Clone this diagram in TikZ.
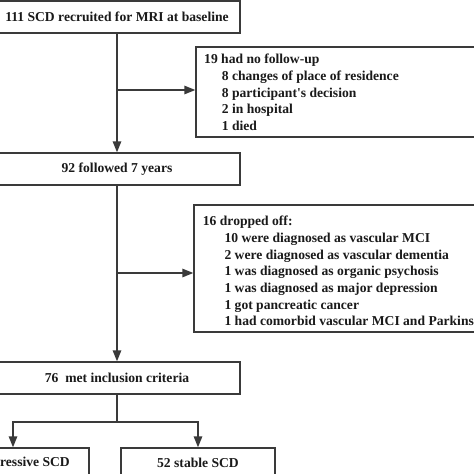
\documentclass[tikz,border=0pt]{standalone}
\usepackage{fontspec}
\newfontfamily\tnr{Liberation Serif}
\usetikzlibrary{arrows.meta}
\definecolor{ln}{HTML}{3A3A3A}
\definecolor{tx}{HTML}{1A1A1A}
\tikzset{
  box/.style={draw=ln, line width=1.4pt, fill=white, inner sep=0pt, text=tx,
    font=\tnr\fontsize{13.6}{16.7}\selectfont\bfseries},
  txt/.style={inner sep=0pt, text=tx, align=left,
    font=\tnr\fontsize{13.6}{16.7}\selectfont\bfseries},
  conn/.style={draw=ln, line width=1.4pt},
  arr/.style={conn, -{Triangle[length=11pt, width=8.5pt]}}
}
\begin{document}
\begin{tikzpicture}[x=1pt,y=-1pt]
\useasboundingbox (0,0) rectangle (474,474);
\clip (0,0) rectangle (474,474);
\fill[white] (0,0) rectangle (474,474);
% main column
\node[box, minimum width=246pt, minimum height=32pt] (n1) at (117,17) {111 SCD recruited for MRI at baseline};
\node[box, minimum width=246pt, minimum height=32pt] (n3) at (117,169) {92 followed 7 years};
\node[box, minimum width=246pt, minimum height=32pt] (n5) at (117,378) {76\ \ met inclusion criteria};
% side boxes
\node[box, minimum width=290pt, minimum height=90pt] (n2) at (341,92) {};
\node[txt, anchor=north west] (t2) at (204,54) {19 had no follow-up\\
\hspace*{17.7pt}8 changes of place of residence\\
\hspace*{17.7pt}8 participant's decision\\
\hspace*{17.7pt}2 in hospital\\
\hspace*{17.7pt}1 died};
\node[box, minimum width=292pt, minimum height=127pt] (n4) at (340,268.5) {};
\node[txt, anchor=north west] (t4) at (202.7,216) {16 dropped off:\\
\hspace*{21.6pt}10 were diagnosed as vascular MCI\\
\hspace*{21.6pt}2 were diagnosed as vascular dementia\\
\hspace*{21.6pt}1 was diagnosed as organic psychosis\\
\hspace*{21.6pt}1 was diagnosed as major depression\\
\hspace*{21.6pt}1 got pancreatic cancer\\
\hspace*{21.6pt}1 had comorbid vascular MCI and Parkinson's disease};
% bottom boxes
\node[box, minimum width=152pt, minimum height=30pt] (n6) at (13,463) {24 progressive SCD};
\node[box, minimum width=154pt, minimum height=30pt] (n7) at (198,463) {52 stable SCD};
% connectors
\coordinate (j1) at (117,90);
\coordinate (j2) at (117,273);
\coordinate (j3) at (117,422);
\draw[arr] (n1.south) -- (n3.north);
\draw[arr] (j1) -- (j1 -| n2.west);
\draw[arr] (n3.south) -- (n5.north);
\draw[arr] (j2) -- (j2 -| n4.west);
\draw[conn] (n5.south) -- (j3);
\draw[arr] (j3) -| (n6.north);
\draw[arr] (j3) -| (n7.north);
\end{tikzpicture}
\end{document}
